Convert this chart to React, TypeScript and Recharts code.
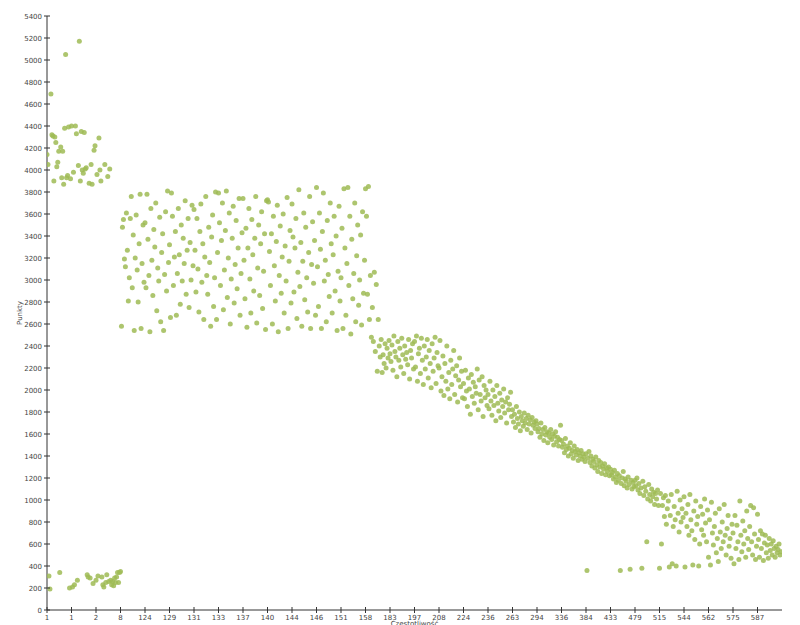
import { Label, Scatter, ScatterChart, XAxis, YAxis } from "recharts"

// labels shown under the x axis, one every pointsPerTick words
const xTickLabels = [
  "1", "1", "2", "8", "124", "129", "131", "133", "137", "140", "144", "146", "151", "158", "183",
  "197", "208", "224", "236", "263", "294", "336", "384", "433", "479", "515", "544", "562", "575", "587",
]

const yTicks = [
  0, 200, 400, 600, 800, 1000, 1200, 1400, 1600, 1800, 2000, 2200, 2400, 2600, 2800, 3000, 3200, 3400,
  3600, 3800, 4000, 4200, 4400, 4600, 4800, 5000, 5200, 5400,
]

const pointsPerTick = 25

// rare words: two groups, high and low scores
const rareScores = [
  4140, 4050, 310, 190, 4690, 4320, 4310, 3900, 4300, 4250, 4030, 4070, 4170, 340, 4210, 3930, 4170, 3870, 4380, 5050, 3930, 3950, 4390, 200, 3920,
  4400, 210, 3980, 230, 4400, 4330, 270, 4040, 5170, 3900, 4350, 4000, 3970, 4340, 4010, 4020, 320, 300, 3880, 290, 4050, 3870, 240, 4180, 4220,
  270, 3960, 310, 4290, 4000, 3900, 300, 230, 210, 4050, 250, 320, 3940, 260, 4010, 270, 230, 260, 220, 290, 250, 300, 340, 250, 340,
]

// middle block 124 - 158
const middleScores = [
  350, 2580, 3480, 3550, 3190, 3120, 3610, 3270, 2810, 3020, 3560, 3760, 2930, 3410, 2540, 3200, 3590, 3090, 2800, 3330, 3780, 2560, 3150, 3500, 2980,
  3520, 2930, 3780, 3370, 3040, 2530, 3650, 3180, 2860, 3460, 3300, 3700, 2720, 3110, 2990, 3570, 2620, 3250, 3420, 2540, 3050, 3620, 2900, 3810, 3160,
  3320, 2660, 3790, 3580, 2950, 3210, 3440, 2680, 3060, 3650, 3230, 2780, 3500, 2990, 3380, 3150, 3720, 2870, 3270, 3560, 2750, 3340, 3000, 3680, 3130,
  3640, 3270, 2890, 3560, 3100, 2710, 3440, 3690, 2980, 3330, 2640, 3210, 3760, 3040, 2870, 3480, 3160, 2580, 3390, 3590, 2760, 3020, 3800, 2640, 3250,
  3790, 3520, 2950, 3360, 3700, 2730, 3090, 3450, 3810, 2840, 3200, 3610, 2600, 3010, 3380, 3670, 2790, 3140, 3540, 2920, 3290, 3740, 2680, 3060, 3430,
  3740, 3180, 2830, 3470, 2570, 3290, 3650, 3010, 2700, 3550, 3230, 2900, 3380, 3760, 2610, 3110, 3500, 2860, 3330, 3620, 2740, 3080, 3420, 2550, 3720,
  3730, 3710, 3260, 2950, 3420, 2600, 3580, 3130, 2810, 3350, 3680, 2530, 3040, 3490, 2880, 3210, 3600, 2700, 3310, 2990, 3750, 2560, 3170, 3450, 2790,
  3690, 3390, 2890, 3290, 3560, 2650, 3070, 3820, 2940, 3340, 2580, 3170, 3610, 2820, 3480, 3020, 2710, 3250, 3760, 2560, 3140, 3530, 2970, 3360, 2680,
  3840, 3120, 2760, 3610, 3280, 2560, 3440, 3790, 2990, 3180, 2620, 3540, 3050, 2850, 3700, 3330, 2700, 3230, 3580, 2900, 3400, 2540, 3080, 3670, 2810,
  3020, 3470, 2560, 3830, 3290, 2680, 3150, 3840, 2950, 3580, 2510, 3370, 2830, 3060, 3700, 2620, 3220, 3500, 2770, 3000, 3410, 2590, 3620, 2880, 3180,
  3830, 3580, 2870, 3850, 2640, 3040, 2480, 2750, 2440, 3070, 2350, 2960, 2170, 2640, 2400, 2300, 2460, 2160, 2320, 2240, 2420, 2200, 2380, 2290, 2450,
]

// frequent words: falling band and the tail
const frequentScores = [
  2330, 2260, 2410, 2180, 2490, 2350, 2300, 2120, 2440, 2270, 2380, 2210, 2470, 2320, 2150, 2400, 2280, 2340, 2230, 2460, 2100, 2360, 2290, 2420, 2190,
  2440, 2210, 2490, 2080, 2330, 2380, 2150, 2470, 2270, 2050, 2400, 2190, 2300, 2460, 2110, 2360, 2240, 2020, 2420, 2170, 2290, 2480, 2060, 2340, 2220,
  2200, 2450, 1990, 2120, 2310, 1950, 2240, 2080, 2400, 2010, 2160, 1920, 2270, 2050, 2190, 2360, 1960, 2130, 2220, 1890, 2090, 2290, 2030, 2170, 1930,
  2060, 1920, 2180, 1990, 1850, 2110, 2010, 1780, 2140, 1940, 2070, 1880, 2030, 1970, 2190, 1820, 2090, 1960, 1900, 2120, 1760, 2040, 1930, 2000, 1860,
  1960, 1830, 2080, 1900, 1770, 2000, 1860, 1940, 1720, 2040, 1880, 1810, 1970, 1750, 1910, 1850, 2010, 1790, 1890, 1700, 1930, 1820, 1870, 1980, 1760,
  1820, 1710, 1780, 1660, 1850, 1740, 1690, 1800, 1630, 1760, 1720, 1670, 1790, 1700, 1740, 1640, 1770, 1690, 1730, 1610, 1750, 1680, 1710, 1650, 1720,
  1690, 1620, 1650, 1570, 1700, 1600, 1640, 1540, 1660, 1590, 1620, 1520, 1610, 1570, 1640, 1550, 1600, 1500, 1580, 1620, 1530, 1570, 1490, 1550, 1680,
  1540, 1480, 1510, 1430, 1560, 1460, 1490, 1400, 1470, 1520, 1420, 1450, 1380, 1490, 1440, 1410, 1460, 1360, 1430, 1400, 1450, 1370, 1420, 1390, 1350,
  1420, 360, 1380, 1440, 1340, 1400, 1310, 1370, 1350, 1290, 1390, 1320, 1260, 1360, 1300, 1340, 1240, 1310, 1280, 1330, 1230, 1290, 1260, 1300, 1220,
  1280, 1230, 1250, 1190, 1270, 1210, 1160, 1240, 1180, 1220, 360, 1150, 1200, 1260, 1130, 1190, 1170, 1110, 1210, 1140, 370, 1180, 1100, 1160, 1120,
  1180, 1130, 1200, 1090, 1150, 1060, 1110, 380, 1170, 1040, 1120, 1080, 620, 1010, 1140, 1050, 990, 1100, 1030, 1070, 960, 1060, 1010, 1090, 950,
  380, 1060, 600, 950, 1020, 850, 1040, 780, 920, 990, 390, 860, 1050, 420, 760, 940, 820, 400, 1080, 880, 710, 1000, 800, 920, 840,
  1030, 390, 880, 760, 960, 680, 1050, 820, 720, 410, 900, 640, 990, 780, 850, 400, 600, 940, 730, 870, 680, 1010, 790, 620, 910,
  480, 820, 410, 980, 700, 590, 760, 880, 520, 650, 440, 920, 710, 560, 800, 620, 960, 680, 500, 740, 860, 580, 650, 470, 780,
  700, 420, 860, 560, 770, 620, 460, 990, 680, 530, 810, 600, 720, 480, 900, 650, 550, 760, 950, 620, 500, 930, 690, 460, 580,
  870, 640, 480, 720, 560, 690, 450, 610, 680, 520, 590, 470, 650, 540, 600, 500, 630, 560, 480, 580, 520, 550, 600, 500, 530,
]

const punkty = [...rareScores, ...middleScores, ...frequentScores]
const data = punkty.map((score, i) => ({ idx: i, punkty: score }))
const xTicks = xTickLabels.map((_, i) => i * pointsPerTick)

const font = "'DejaVu Sans', Verdana, sans-serif"
const axisColor = "#333333"
const textColor = "#444444"

function XTick({ x, y, payload }: any) {
  const label = xTickLabels[Math.round(payload.value / pointsPerTick)]
  return (
    <g>
      <line x1={x} x2={x} y1={y - 3} y2={y + 3} stroke={axisColor} />
      <text x={x} y={y + 10} textAnchor="middle" fontSize={7} fill={textColor} fontFamily={font}>
        {label}
      </text>
    </g>
  )
}

function YTick({ x, y, payload }: any) {
  return (
    <g>
      <line x1={x - 3} x2={x + 3} y1={y} y2={y} stroke={axisColor} />
      <text x={x - 5} y={y + 2.5} textAnchor="end" fontSize={7} fill={textColor} fontFamily={font}>
        {payload.value}
      </text>
    </g>
  )
}

function Dot({ cx, cy }: any) {
  return <circle cx={cx} cy={cy} r={2.5} fill="#9fbb55" fillOpacity={0.85} />
}

export default function App() {
  return (
    <div style={{ position: "absolute", left: 0, top: 0, background: "#fff" }}>
      <ScatterChart width={800} height={625} margin={{ top: 16, right: 18, bottom: 5, left: 0 }}>
        <XAxis
          type="number"
          dataKey="idx"
          domain={[0, xTickLabels.length * pointsPerTick]}
          ticks={xTicks}
          interval={0}
          tick={<XTick />}
          tickSize={0}
          tickMargin={0}
          height={10}
          stroke={axisColor}
          allowDataOverflow
        >
          <Label
            value="Częstotliwość"
            position="bottom"
            offset={1}
            fontSize={7}
            fill={textColor}
            fontFamily={font}
          />
        </XAxis>
        <YAxis
          type="number"
          dataKey="punkty"
          domain={[0, 5400]}
          ticks={yTicks}
          interval={0}
          tick={<YTick />}
          tickSize={0}
          tickMargin={0}
          width={47}
          stroke={axisColor}
          label={{
            content: ({ viewBox }: any) => (
              <text
                x={viewBox.x + 22}
                y={viewBox.y + viewBox.height / 2}
                transform={`rotate(-90, ${viewBox.x + 22}, ${viewBox.y + viewBox.height / 2})`}
                textAnchor="middle"
                fontSize={7}
                fill={textColor}
                fontFamily={font}
              >
                Punkty
              </text>
            ),
          }}
        />
        <Scatter data={data} shape={<Dot />} isAnimationActive={false} />
      </ScatterChart>
    </div>
  )
}
